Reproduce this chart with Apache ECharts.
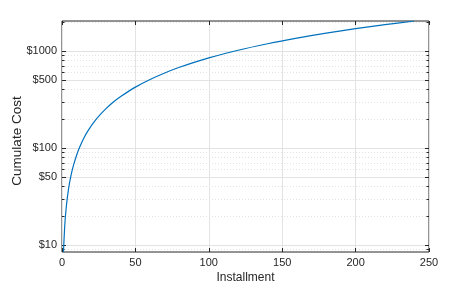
<!DOCTYPE html>
<html>
<head>
<meta charset="utf-8">
<script src="https://cdn.jsdelivr.net/npm/echarts@6/dist/echarts.min.js"></script>
<style>
html, body { margin: 0; padding: 0; background: #fff; }
#main { width: 474px; height: 285px; }
</style>
</head>
<body>
<div id="main"></div>
<script>
// installment number and cumulative cost
var installments = [1, 2, 3, 4, 5, 6, 7, 8, 10, 12, 15, 18, 22, 26, 30, 35, 40, 50, 60, 70, 80, 90, 100, 120, 140, 160, 180, 200, 220, 240];
var costs = [8.5, 17, 25.5, 34, 42.5, 51, 59.5, 68, 85, 102, 128, 153, 187, 221, 255, 298, 340, 425, 510, 595, 680, 765, 850, 1020, 1190, 1360, 1530, 1700, 1870, 2040];
var xTicks = [0, 50, 100, 150, 200, 250];
var yMajor = [10, 50, 100, 500, 1000];
var yMinor = [9, 20, 30, 40, 60, 70, 80, 90, 200, 300, 400, 600, 700, 800, 900, 2000];

var yMin = 8.5, yMax = 2040;
var axisColor = '#262626';
var font = 'Liberation Sans, Arial, sans-serif';

var chart = echarts.init(document.getElementById('main'));

function yAx(pos, ticks, tickLen, labels, split) {
	return {
		type: 'log',
		logBase: 10,
		min: yMin,
		max: yMax,
		position: pos,
		axisLine: { show: false },
		axisTick: { show: true, inside: true, length: tickLen, customValues: ticks, lineStyle: { color: axisColor, width: 1 } },
		axisLabel: labels ? {
			show: true, customValues: ticks, color: axisColor, fontFamily: font, fontSize: 11, margin: 5,
			formatter: function (v) { return '$' + v; }
		} : { show: false },
		splitLine: split,
		minorTick: { show: false },
		minorSplitLine: { show: false }
	};
}

var data = installments.map(function (n, i) { return [n, costs[i]]; });

option = {
	backgroundColor: '#fff',
	animation: false,
	grid: {
		left: 62, right: 45, top: 21, bottom: 33,
		outerBoundsMode: 'none',
		containLabel: false,
		show: true, borderColor: axisColor, borderWidth: 1, backgroundColor: 'transparent'
	},
	xAxis: [{
		type: 'value',
		min: 0, max: 250, interval: 50,
		position: 'bottom',
		name: 'Installment',
		nameLocation: 'middle',
		nameGap: 20,
		nameMoveOverlap: false,
		nameTextStyle: { color: axisColor, fontFamily: font, fontSize: 12 },
		axisLine: { show: false },
		axisTick: { show: true, inside: true, length: 4, lineStyle: { color: axisColor } },
		axisLabel: { color: axisColor, fontFamily: font, fontSize: 11, margin: 5, showMinLabel: true, showMaxLabel: true },
		splitLine: { show: true, lineStyle: { color: '#e3e3e3', width: 1 } }
	}, {
		type: 'value',
		min: 0, max: 250, interval: 50,
		position: 'top',
		axisLine: { show: false },
		axisTick: { show: true, inside: true, length: 4, lineStyle: { color: axisColor } },
		axisLabel: { show: false },
		splitLine: { show: false }
	}],
	yAxis: [
		Object.assign(yAx('left', yMajor, 4, true, { show: true, lineStyle: { color: '#e3e3e3', width: 1 } }), {
			name: 'Cumulate Cost',
			nameLocation: 'middle',
			nameGap: 38,
			nameMoveOverlap: false,
			nameTextStyle: { color: axisColor, fontFamily: font, fontSize: 13.5, padding: [0, 9, 0, 0] }
		}),
		yAx('left', yMinor, 2.5, false, { show: true, lineStyle: { color: '#e3e3e3', width: 1, type: [1, 2] } }),
		yAx('right', yMajor, 4, false, { show: false }),
		yAx('right', yMinor, 2.5, false, { show: false })
	],
	series: [{
		name: 'Cumulate Cost',
		type: 'line',
		xAxisIndex: 0,
		yAxisIndex: 0,
		data: data,
		showSymbol: false,
		smooth: 0.3,
		lineStyle: { color: '#0072BD', width: 1.2 },
		clip: true
	}]
};

chart.setOption(option);
</script>
</body>
</html>
